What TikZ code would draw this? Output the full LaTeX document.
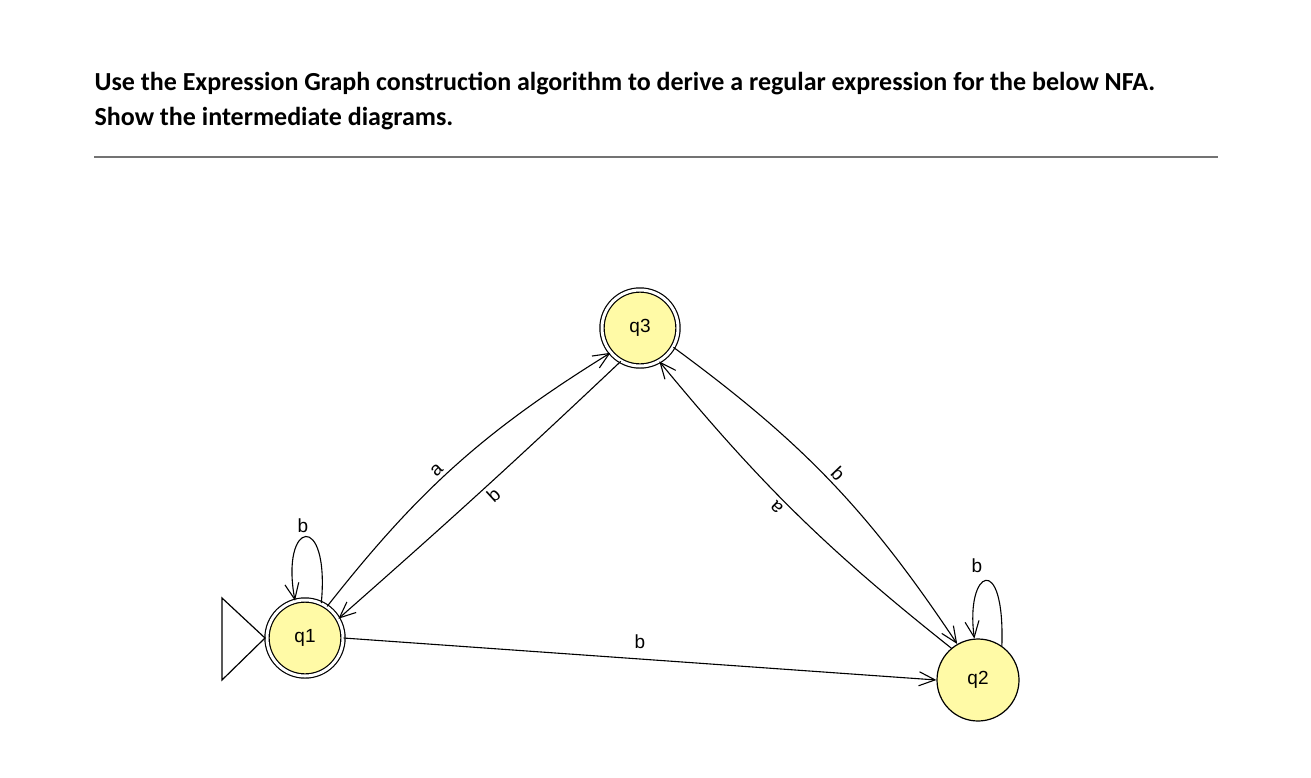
\documentclass[tikz,border=0pt]{standalone}
\usepackage{fontspec}
\setmainfont{Liberation Sans}
\newfontfamily\titlefont{Carlito}
\usetikzlibrary{arrows.meta}
\begin{document}
\begin{tikzpicture}[x=1pt,y=-1pt,
  st/.style={circle,draw,line width=1.2pt,fill=yellow!35,minimum size=82pt,inner sep=0pt,font=\fontsize{19}{22}\selectfont},
  acc/.style={st,double,double distance=3pt,minimum size=76pt},
  tr/.style={-{Straight Barb[length=16pt,width=14pt]},line width=1.1pt},
  lb/.style={font=\fontsize{19}{22}\selectfont}]
\useasboundingbox (0,0) rectangle (1311,777);
\node[anchor=west,font=\titlefont\bfseries\fontsize{26}{30}\selectfont] (t1) at (91,84) {Use the Expression Graph construction algorithm to derive a regular expression for the below NFA.};
\node[anchor=west,font=\titlefont\bfseries\fontsize{26}{30}\selectfont] (t2) at (91,119) {Show the intermediate diagrams.};
\draw[line width=2pt,black!55] (94,157) -- (1218,157);
\node[acc] (q1) at (305,638) {q1};
\node[acc] (q3) at (640,328) {q3};
\node[st] (q2) at (978,680) {q2};
\draw[line width=1.2pt] (222,598) -- (265,638) -- (222,680) -- cycle;
\draw[tr] (q1.55) to[bend left=10] node[lb,pos=0.45,above,sloped] {a} (q3.220);
\draw[tr] (q3.240) to[bend left=1] node[lb,pos=0.48,below,sloped] {b} (q1.30);
\draw[tr] (q3.330) to[bend left=10] node[lb,pos=0.5,above,sloped] {b} (q2.120);
\draw[tr] (q2.130) to[bend left=6] node[lb,pos=0.55,above,sloped,rotate=180] {a} (q3.300);
\draw[tr] (q1.east) -- node[lb,pos=0.5,above=6pt] {b} (q2.west);
\draw[tr] (q1.65) .. controls (330,510) and (280,520) .. (q1.105);
\node[lb] (l1) at (303,526) {b};
\draw[tr] (q2.55) .. controls (1005,550) and (965,570) .. (q2.95);
\node[lb] (l2) at (977,566) {b};
\end{tikzpicture}
\end{document}
